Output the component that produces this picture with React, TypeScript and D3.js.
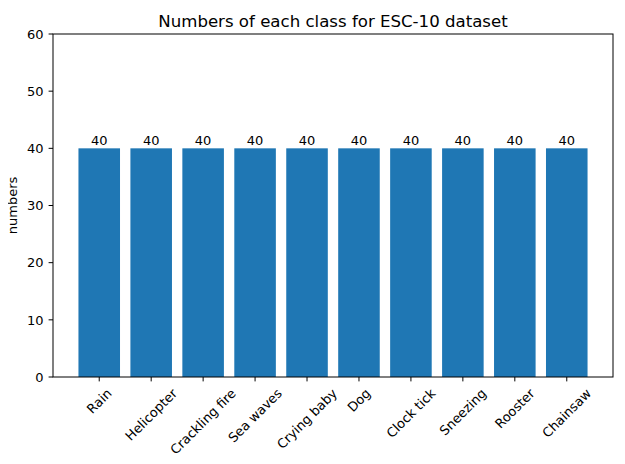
import React, { useEffect, useRef } from "react";
import * as d3 from "d3";

const classes = [
  "Rain",
  "Helicopter",
  "Crackling fire",
  "Sea waves",
  "Crying baby",
  "Dog",
  "Clock tick",
  "Sneezing",
  "Rooster",
  "Chainsaw",
];
const counts = [40, 40, 40, 40, 40, 40, 40, 40, 40, 40];
const yTicks = [0, 10, 20, 30, 40, 50, 60];

const W = 625;
const H = 464;
const FONT = "'DejaVu Sans', sans-serif";

export default function App() {
  const svgRef = useRef<SVGSVGElement | null>(null);

  useEffect(() => {
    if (!svgRef.current) return;
    const svg = d3.select(svgRef.current);
    svg.selectAll("*").remove();

    const margin = { top: 34, right: 12, bottom: 87, left: 53 };
    const x0 = margin.left;
    const x1 = W - margin.right;
    const y0 = H - margin.bottom;
    const y1 = margin.top;
    const fs = 13;

    const x = d3
      .scaleBand<string>()
      .domain(classes)
      .range([x0, x1])
      .paddingInner(0.2)
      .paddingOuter(0.49);

    const y = d3.scaleLinear().domain([0, 60]).range([y0, y1]);

    // bars
    svg
      .append("g")
      .selectAll("rect")
      .data(classes)
      .join("rect")
      .attr("x", (d) => x(d) || 0)
      .attr("y", (_, i) => y(counts[i]))
      .attr("width", x.bandwidth())
      .attr("height", (_, i) => y(0) - y(counts[i]))
      .attr("fill", "#1f77b4");

    // value labels
    svg
      .append("g")
      .selectAll("text")
      .data(classes)
      .join("text")
      .attr("x", (d) => (x(d) || 0) + x.bandwidth() / 2)
      .attr("y", (_, i) => y(counts[i]) - 3)
      .attr("text-anchor", "middle")
      .style("font-family", FONT)
      .style("font-size", `${fs}px`)
      .text((_, i) => String(counts[i]));

    // y axis ticks
    const yAxis = svg.append("g");
    yAxis
      .selectAll("line")
      .data(yTicks)
      .join("line")
      .attr("x1", x0 - 4.4)
      .attr("x2", x0)
      .attr("y1", (d) => y(d))
      .attr("y2", (d) => y(d))
      .attr("stroke", "#000")
      .attr("stroke-width", 1);
    yAxis
      .selectAll("text")
      .data(yTicks)
      .join("text")
      .attr("x", x0 - 9.5)
      .attr("y", (d) => y(d))
      .attr("dy", "0.36em")
      .attr("text-anchor", "end")
      .style("font-family", FONT)
      .style("font-size", `${fs}px`)
      .text((d) => String(d));

    // x axis ticks
    const xAxis = svg.append("g");
    xAxis
      .selectAll("line")
      .data(classes)
      .join("line")
      .attr("x1", (d) => (x(d) || 0) + x.bandwidth() / 2)
      .attr("x2", (d) => (x(d) || 0) + x.bandwidth() / 2)
      .attr("y1", y0)
      .attr("y2", y0 + 4.4)
      .attr("stroke", "#000")
      .attr("stroke-width", 1);

    const labels = xAxis
      .selectAll("text")
      .data(classes)
      .join("text")
      .attr("text-anchor", "middle")
      .attr("dominant-baseline", "central")
      .style("font-family", FONT)
      .style("font-size", `${fs}px`)
      .text((d) => d);

    labels.each(function (d) {
      const node = this as SVGTextElement;
      const w = node.getComputedTextLength();
      const s = Math.SQRT1_2;
      const boxH = (w + fs * 1.1) * s;
      const cx = (x(d) || 0) + x.bandwidth() / 2;
      const cy = y0 + 9 + boxH / 2;
      d3.select(node).attr("transform", `translate(${cx},${cy}) rotate(-45)`);
    });

    // frame
    svg
      .append("rect")
      .attr("x", x0)
      .attr("y", y1)
      .attr("width", x1 - x0)
      .attr("height", y0 - y1)
      .attr("fill", "none")
      .attr("stroke", "#000")
      .attr("stroke-width", 1);

    // y label
    svg
      .append("text")
      .attr("transform", `translate(17,${(y0 + y1) / 2}) rotate(-90)`)
      .attr("text-anchor", "middle")
      .style("font-family", FONT)
      .style("font-size", `${fs}px`)
      .text("numbers");

    // title
    svg
      .append("text")
      .attr("x", (x0 + x1) / 2)
      .attr("y", y1 - 7)
      .attr("text-anchor", "middle")
      .style("font-family", FONT)
      .style("font-size", "16.6px")
      .text("Numbers of each class for ESC-10 dataset");
  }, []);

  return (
    <div style={{ margin: -8 }}>
      <svg ref={svgRef} width={W} height={H} style={{ display: "block", background: "#fff" }} />
    </div>
  );
}
